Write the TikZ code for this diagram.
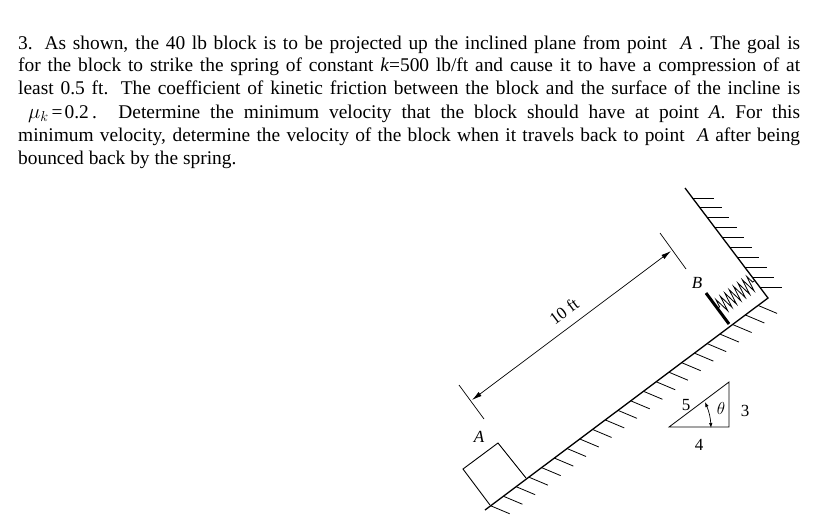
\documentclass[tikz,border=0pt]{standalone}
\usepackage{fontspec}
\setmainfont{Liberation Serif}
\usetikzlibrary{arrows.meta,decorations.pathmorphing,calc}
\begin{document}
\begin{tikzpicture}[x=1pt,y=-1pt,
  txt/.style={anchor=base west,inner sep=0pt,font=\fontsize{19.4}{22}\selectfont},
  hat/.style={line width=0.8pt},
  lbl/.style={inner sep=0pt,font=\fontsize{17}{20}\selectfont}]
\useasboundingbox (0,0) rectangle (831,520);
\fill[white] (0,0) rectangle (831,520);
% text
\node[txt] (l1) at (18,49) {\hbox to 782pt{3. As shown, the 40 lb block is to be projected up the inclined plane from point \ \textit{A}\ . The goal is}};
\node[txt] (l2) at (18,71) {\hbox to 782pt{for the block to strike the spring of constant \textit{k}=500 lb/ft and cause it to have a compression of at}};
\node[txt] (l3) at (18,94) {\hbox to 782pt{least 0.5 ft. The coefficient of kinetic friction between the block and the surface of the incline is}};
\node[txt] (l4) at (18,118) {\hbox to 782pt{\ $\mu_k$\kern3pt=\kern2pt0.2\,. Determine the minimum velocity that the block should have at point \textit{A}. For this}};
\node[txt] (l5) at (18,141) {\hbox to 782pt{minimum velocity, determine the velocity of the block when it travels back to point \ \textit{A}\ after being}};
\node[txt] (l6) at (18,164) {bounced back by the spring.};
% incline and wall
\coordinate (P0) at (485,510);
\coordinate (P1) at (768,298);
\coordinate (W0) at (685,188);
\draw[line width=1.3pt] (P0) -- (P1) -- (W0);
\foreach \t in {0.02,0.065,...,0.99} \draw[hat] ($(P0)!\t!(P1)$) -- ++(19,8);
\foreach \t in {0.1,0.19,...,0.99} \draw[hat] ($(P1)!\t!(W0)$) -- ++(22,0);
% block
\draw[line width=0.9pt] (490,505) -- (463,469) -- (498,443) -- (526,478);
\node[lbl,font=\fontsize{17}{20}\selectfont\itshape] (A) at (479,437) {A};
% spring
\coordinate (S0) at (718,308);
\coordinate (S1) at ($(S0)+(36.8,-27.6)$);
\draw[line width=3pt] (706,293) -- (729,324);
\draw[line width=0.8pt,decorate,decoration={zigzag,segment length=5.5pt,amplitude=8pt,pre length=2pt,post length=2pt}] (S0) -- (S1);
\node[lbl,font=\fontsize{17}{20}\selectfont\itshape] (B) at (697,283) {B};
% dimension
\draw[line width=0.7pt] (459,385) -- (484,419);
\draw[line width=0.7pt] (660,233) -- (686,269);
\coordinate (D0) at (472,400);
\coordinate (D1) at (671,251);
\draw[line width=0.7pt,{Latex[length=10pt,width=5pt]}-{Latex[length=10pt,width=5pt]}] (D0) -- (D1);
\node[lbl,rotate=37] (dim) at (564,311) {10 ft};
% slope triangle
\draw[line width=0.8pt] (669,427) -- (729,427) -- (729,382) -- cycle;
\node[lbl] (n5) at (686,405) {5};
\node[lbl] (n3) at (745,411) {3};
\node[lbl] (n4) at (699,445) {4};
\node[lbl] (th) at (721,408) {$\theta$};
\draw[line width=0.7pt,{Latex[length=5pt,width=3.5pt]}-{Latex[length=5pt,width=3.5pt]}] (705,402) to[bend left=10] (711,428);
\end{tikzpicture}
\end{document}
